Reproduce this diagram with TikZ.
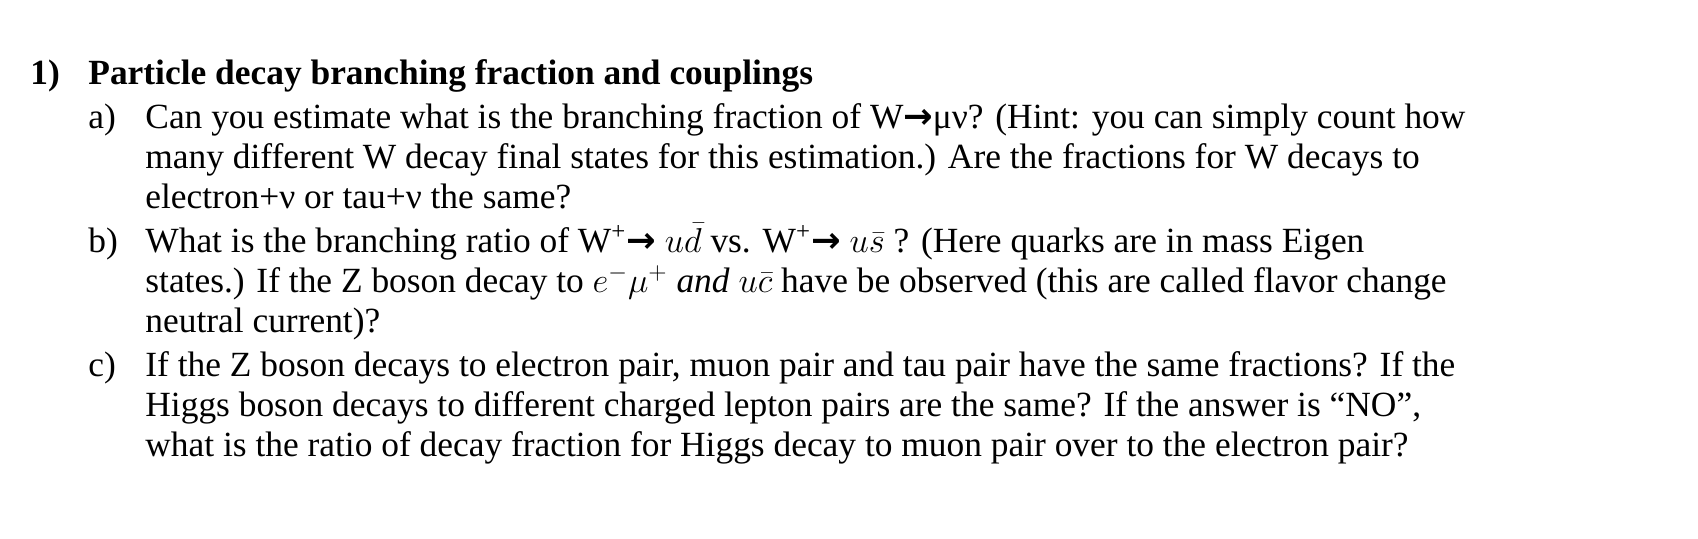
\documentclass[tikz,border=0pt]{standalone}
\usepackage{fontspec}
\setmainfont{Liberation Serif}
\newfontfamily\dejavu{DejaVu Sans}
\newcommand{\arr}{{\dejavu\bfseries →}}
\begin{document}
\begin{tikzpicture}[x=0.5pt,y=-0.5pt,
  txt/.style={anchor=base west,inner sep=0pt,font=\fontsize{17.7pt}{21pt}\selectfont}]
\useasboundingbox (0,0) rectangle (1698,538);
\node[txt] (n1) at (30,84) {\bfseries 1)};
\node[txt] (h) at (88,84) {\bfseries Particle decay branching fraction and couplings};
\node[txt] (la) at (88,128) {a)};
\node[txt] (a1) at (145,128) {Can you estimate what is the branching fraction of W\arr μν? (Hint: you can simply count how};
\node[txt] (a2) at (145,168) {many different W decay final states for this estimation.) Are the fractions for W decays to};
\node[txt] (a3) at (145,208) {electron+ν or tau+ν the same?};
\node[txt] (lb) at (88,252) {b)};
\node[txt] (b1) at (145,252) {What is the branching ratio of W\textsuperscript{+}\arr\ $u\bar{d}$ vs. W\textsuperscript{+}\arr\ $u\bar{s}$ ? (Here quarks are in mass Eigen};
\node[txt] (b2) at (145,292) {states.) If the Z boson decay to $e^-\mu^+$ \textit{and} $u\bar{c}$ have be observed (this are called flavor change};
\node[txt] (b3) at (145,332) {neutral current)?};
\node[txt] (lc) at (88,376) {c)};
\node[txt] (c1) at (145,376) {If the Z boson decays to electron pair, muon pair and tau pair have the same fractions? If the};
\node[txt] (c2) at (145,416) {Higgs boson decays to different charged lepton pairs are the same? If the answer is “NO”,};
\node[txt] (c3) at (145,456) {what is the ratio of decay fraction for Higgs decay to muon pair over to the electron pair?};
\end{tikzpicture}
\end{document}
